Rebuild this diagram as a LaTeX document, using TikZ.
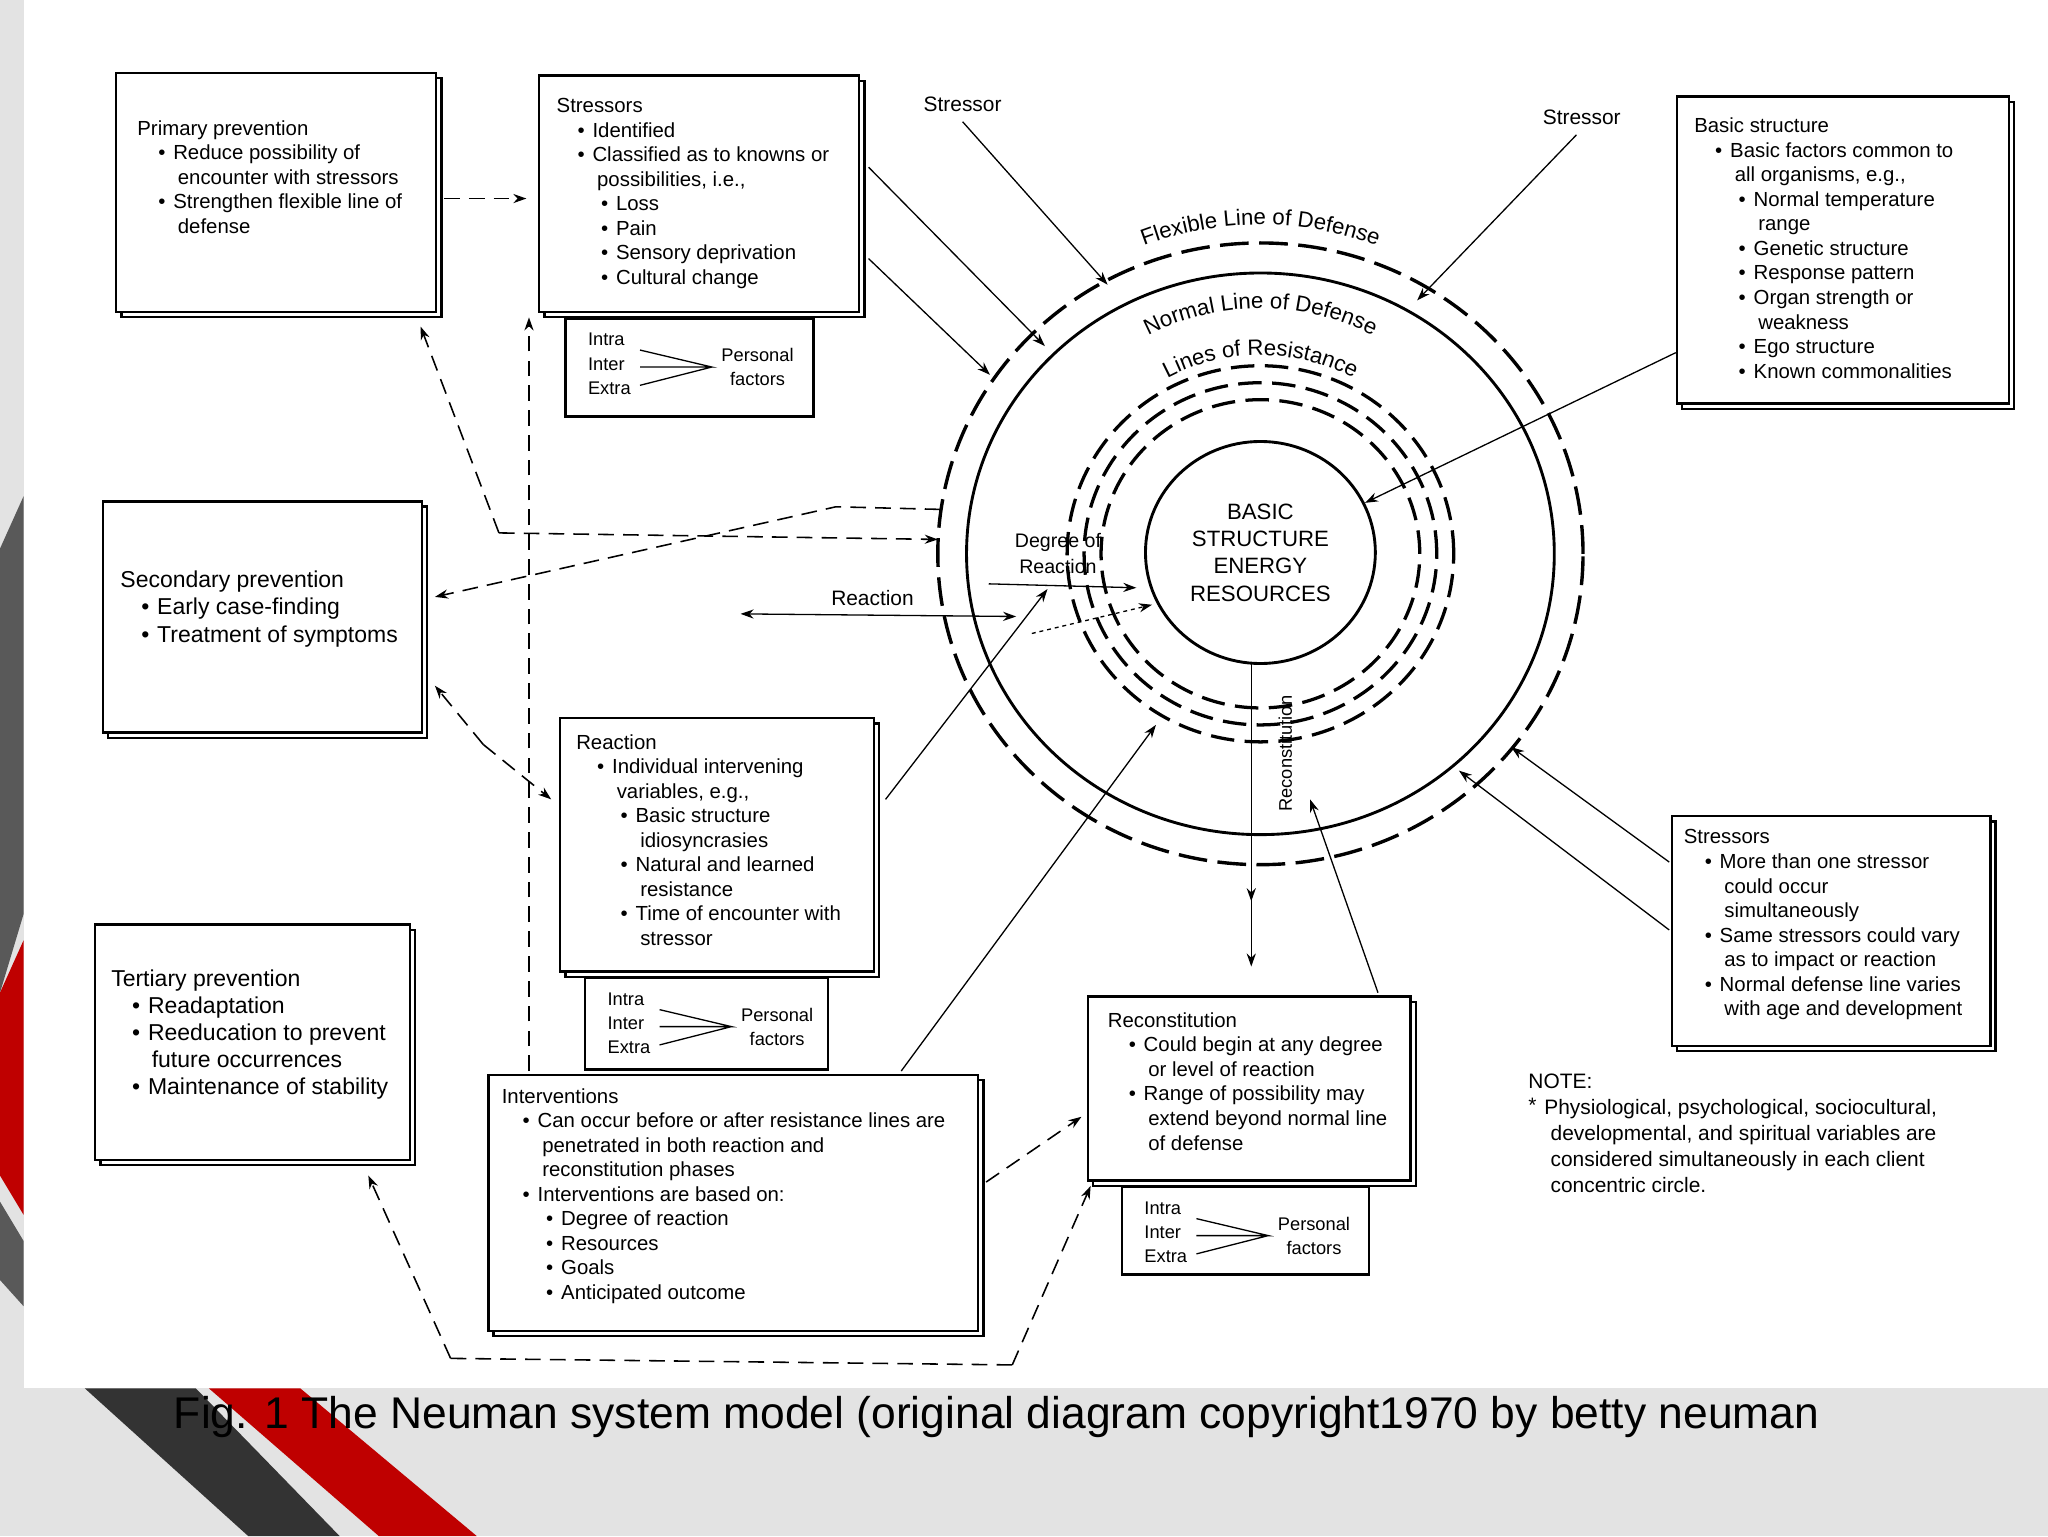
\documentclass[tikz,border=0pt]{standalone}
\usepackage{fontspec}
\setmainfont{Liberation Sans}
\usetikzlibrary{shadows,arrows.meta,decorations.text,calc,shapes.geometric}
\newcommand{\bi}{\hspace*{16pt}\textbullet\hspace{6pt}}
\newcommand{\bc}{\hspace*{31pt}}
\newcommand{\bii}{\hspace*{34pt}\textbullet\hspace{6pt}}
\newcommand{\bcc}{\hspace*{49pt}}
\begin{document}
\begin{tikzpicture}[x=1pt,y=1pt,
  bx/.style={draw,line width=1.8pt,fill=white,copy shadow={shadow xshift=4pt,shadow yshift=-4pt},inner sep=0pt,anchor=north west},
  pbx/.style={draw,line width=1.8pt,fill=white,inner sep=0pt,anchor=north west},
  txt/.style={anchor=north west,align=left,inner sep=0pt,font=\fontsize{15.6}{18.8}\selectfont},
  btxt/.style={anchor=north west,align=left,inner sep=0pt,font=\fontsize{17.6}{20.8}\selectfont},
  arr/.style={-{Stealth[length=10pt,width=7pt]},line width=1pt},
  darr/.style={-{Stealth[length=10pt,width=7pt]},line width=1.2pt,dash pattern=on 12pt off 7pt},
  dl/.style={line width=1.2pt,dash pattern=on 12pt off 7pt}]
\useasboundingbox (0,0) rectangle (1568,-1176);
% background
\fill[gray!22] (0,0) rectangle (1568,-1176);
\fill[white] (18,0) rectangle (1568,-1063);
\fill[gray!70!black] (0,-420) -- (18,-380) -- (18,-700) -- (0,-760) -- cycle;
\fill[red!75!black] (0,-760) -- (18,-720) -- (18,-930) -- (0,-900) -- cycle;
\fill[gray!70!black] (0,-920) -- (18,-950) -- (18,-1000) -- (0,-980) -- cycle;
\fill[black!80] (65,-1063) -- (150,-1063) -- (260,-1176) -- (190,-1176) -- cycle;
\fill[red!75!black] (160,-1063) -- (230,-1063) -- (365,-1176) -- (290,-1176) -- cycle;
\node[anchor=west,inner sep=0pt,font=\fontsize{34}{38}\selectfont] (cap) at (133,-1085) {Fig. 1 The Neuman system model (original diagram copyright1970 by betty neuman};
% circles
\coordinate (c) at (965,-424);
\draw[line width=2.6pt,dash pattern=on 22pt off 8pt] (c) ellipse [x radius=247,y radius=238];
\draw[line width=2.2pt] (c) ellipse [x radius=225,y radius=215];
\foreach \r in {148,135,122}
  \draw[line width=2.5pt,dash pattern=on 18pt off 8pt] (c) ellipse [x radius=\r,y radius=\r-4];
\node[draw,line width=2.2pt,ellipse,minimum width=176,minimum height=170,inner sep=0pt] (bs) at (965,-423) {};
\node[align=center,inner sep=0pt,font=\fontsize{17}{21}\selectfont] (bst) at (965,-423) {BASIC\\STRUCTURE\\ENERGY\\RESOURCES};
\path[decorate,decoration={text along path,text align=center,text={|\fontsize{17}{17}\selectfont|Flexible Line of Defense}}] ($(c)+(122:252)$) arc[start angle=122,end angle=58,radius=252];
\path[decorate,decoration={text along path,text align=center,text={|\fontsize{17}{17}\selectfont|Normal Line of Defense}}] ($(c)+(128:188)$) arc[start angle=128,end angle=52,radius=188];
\path[decorate,decoration={text along path,text align=center,text={|\fontsize{17}{17}\selectfont|Lines of Resistance}}] ($(c)+(128:152)$) arc[start angle=128,end angle=52,radius=152];
% boxes
\node[bx,minimum width=245,minimum height=183] (prim) at (88,-55) {};
\node[txt] at (105,-92) {Primary prevention\\\bi Reduce possibility of\\\bc encounter with stressors\\\bi Strengthen flexible line of\\\bc defense};
\node[bx,minimum width=245,minimum height=181] (str1) at (412,-57) {};
\node[txt] at (426,-75) {Stressors\\\bi Identified\\\bi Classified as to knowns or\\\bc possibilities, i.e.,\\\bii Loss\\\bii Pain\\\bii Sensory deprivation\\\bii Cultural change};
\node[bx,minimum width=254,minimum height=235] (bsb) at (1283,-73) {};
\node[txt] at (1297,-90) {Basic structure\\\bi Basic factors common to\\\bc all organisms, e.g.,\\\bii Normal temperature\\\bcc range\\\bii Genetic structure\\\bii Response pattern\\\bii Organ strength or\\\bcc weakness\\\bii Ego structure\\\bii Known commonalities};
\node[bx,minimum width=244,minimum height=177] (sec) at (78,-383) {};
\node[btxt] at (92,-437) {Secondary prevention\\\bi Early case-finding\\\bi Treatment of symptoms};
\node[bx,minimum width=240,minimum height=194] (rea) at (428,-549) {};
\node[txt] at (441,-562) {Reaction\\\bi Individual intervening\\\bc variables, e.g.,\\\bii Basic structure\\\bcc idiosyncrasies\\\bii Natural and learned\\\bcc resistance\\\bii Time of encounter with\\\bcc stressor};
\node[bx,minimum width=241,minimum height=180] (ter) at (72,-707) {};
\node[btxt] at (85,-742) {Tertiary prevention\\\bi Readaptation\\\bi Reeducation to prevent\\\bc future occurrences\\\bi Maintenance of stability};
\node[bx,minimum width=375,minimum height=196] (int) at (373,-822) {};
\node[txt] at (384,-833) {Interventions\\\bi Can occur before or after resistance lines are\\\bc penetrated in both reaction and\\\bc reconstitution phases\\\bi Interventions are based on:\\\bii Degree of reaction\\\bii Resources\\\bii Goals\\\bii Anticipated outcome};
\node[bx,minimum width=247,minimum height=141] (rec) at (832,-762) {};
\node[txt] at (848,-775) {Reconstitution\\\bi Could begin at any degree\\\bc or level of reaction\\\bi Range of possibility may\\\bc extend beyond normal line\\\bc of defense};
\node[bx,minimum width=244,minimum height=176] (str2) at (1279,-624) {};
\node[txt] at (1289,-635) {Stressors\\\bi More than one stressor\\\bc could occur\\\bc simultaneously\\\bi Same stressors could vary\\\bc as to impact or reaction\\\bi Normal defense line varies\\\bc with age and development};
\node[anchor=north west,align=left,inner sep=0pt,font=\fontsize{16}{20}\selectfont] (note) at (1170,-822) {NOTE:\\\hspace*{0pt}\raisebox{2pt}{*}\hspace{6pt}Physiological, psychological, sociocultural,\\\hspace*{17pt}developmental, and spiritual variables are\\\hspace*{17pt}considered simultaneously in each client\\\hspace*{17pt}concentric circle.};
% personal factor boxes
\foreach \n/\x/\y/\w/\h in {p1/432/243/190/75, p2/447/748/186/70, p3/858/908/189/67}{
  \node[pbx,minimum width=\w,minimum height=\h] (\n) at (\x,-\y) {};
  \node[txt,font=\fontsize{14}{18.5}\selectfont] at (\x+18,-\y-12) {Intra\\Inter\\Extra};
  \node[txt,font=\fontsize{14}{18.5}\selectfont,align=center,anchor=center] at (\x+148,-\y-38) {Personal\\factors};
  \draw[line width=1pt] (\x+58,-\y-25) -- (\x+113,-\y-38) -- (\x+58,-\y-38) (\x+113,-\y-38) -- (\x+58,-\y-52);
}
% labels
\node[font=\fontsize{16}{16}\selectfont] (s1) at (737,-80) {Stressor};
\node[font=\fontsize{16}{16}\selectfont] (s2) at (1211,-90) {Stressor};
\node[font=\fontsize{16}{16}\selectfont] (rl) at (668,-458) {Reaction};
\node[align=center,font=\fontsize{15}{20}\selectfont] (dr) at (810,-424) {Degree of\\Reaction};
\node[rotate=90,font=\fontsize{14}{14}\selectfont] (rcl) at (984,-577) {Reconstitution};
% solid arrows
\draw[arr] (s1.south) ++(0,-4) -- (848,-218);
\draw[arr] (s2.south) ++(-4,-4) -- (1085,-230);
\draw[arr] (665,-128) -- (800,-265);
\draw[arr] (665,-198) -- (758,-287);
\draw[arr] (1283,-270) -- (1045,-385);
\draw[arr] (1278,-660) -- (1157,-572);
\draw[arr] (1278,-712) -- (1117,-590);
\draw[arr] (958,-508) -- (958,-690);
\draw[arr] (958,-680) -- (958,-740);
\draw[arr] (1055,-760) -- (1003,-612);
\draw[{Stealth[length=10pt,width=7pt]}-{Stealth[length=10pt,width=7pt]},line width=1pt] (567,-470) -- (778,-472);
\draw[arr] (757,-447) -- (870,-450);
\draw[arr,dashed] (790,-485) -- (882,-463);
\draw[arr] (678,-612) -- (802,-451);
\draw[arr] (690,-820) -- (885,-555);
% dashed connectors
\draw[darr] (340,-152) -- (403,-152);
\draw[darr] (405,-820) -- (405,-243);
\draw[darr] (382,-408) -- (322,-250);
\draw[darr] (382,-408) -- (718,-413);
\draw[darr] (720,-390) -- (640,-388) -- (333,-457);
\draw[darr] (370,-570) -- (333,-525);
\draw[darr] (370,-570) -- (422,-612);
\draw[darr] (345,-1040) -- (282,-900);
\draw[dl] (345,-1040) -- (775,-1045);
\draw[darr] (775,-1045) -- (835,-908);
\draw[darr] (755,-905) -- (828,-855);
\end{tikzpicture}
\end{document}
